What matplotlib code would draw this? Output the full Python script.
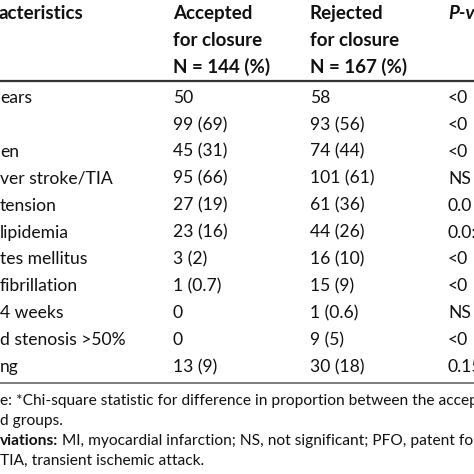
import matplotlib.pyplot as plt

# Colonnes visibles (image recadrée)
headers = [["acteristics", "", ""],
           ["Accepted", "for closure", "N = 144 (%)"],
           ["Rejected", "for closure", "N = 167 (%)"],
           ["P-v", "", ""]]
labels = ["ears", "", "en", "ver stroke/TIA", "tension", "lipidemia",
          "tes mellitus", "fibrillation", "4 weeks", "d stenosis >50%", "ng"]
accepted = ["50", "99 (69)", "45 (31)", "95 (66)", "27 (19)", "23 (16)",
            "3 (2)", "1 (0.7)", "0", "0", "13 (9)"]
rejected = ["58", "93 (56)", "74 (44)", "101 (61)", "61 (36)", "44 (26)",
            "16 (10)", "15 (9)", "1 (0.6)", "9 (5)", "30 (18)"]
pvals = ["<0", "<0", "<0", "NS", "0.0", "0.0:", "<0", "<0", "NS", "<0", "0.15"]
notes = ["e: *Chi-square statistic for difference in proportion between the accep",
         "d groups.",
         "viations: MI, myocardial infarction; NS, not significant; PFO, patent fo",
         "TIA, transient ischemic attack."]

W = H = 474
fig = plt.figure(figsize=(4.74, 4.74), dpi=100)
fig.patch.set_facecolor("white")
ax = fig.add_axes([0, 0, 1, 1])
ax.set_xlim(0, W)
ax.set_ylim(H, 0)
ax.axis("off")

font = "Lato"
col_x = [-2, 173, 310, 448]
fs_h = 13.5
fs = 12.6
fs_n = 11.2
col = "#111111"

# En-têtes
for j, h in enumerate(headers):
    for i, t in enumerate(h):
        if not t:
            continue
        style = "italic" if (j == 3 and i == 0) else "normal"
        ax.text(col_x[j], 13 + 27 * i, t, fontsize=fs_h, fontweight="bold",
                family=font, style=style, va="center", color=col)

ax.axhline(81, color="#333333", lw=1.6)

# Lignes du tableau
for r in range(len(labels)):
    y = 98 + 26.9 * r
    for j, vals in enumerate([labels, accepted, rejected, pvals]):
        ax.text(col_x[j] + (2 if j == 0 else 0), y, vals[r], fontsize=fs,
                family=font, va="center", color=col)

ax.axhline(383, color="#666666", lw=1.2)

# Notes
fig.canvas.draw()
renderer = fig.canvas.get_renderer()
for k, n in enumerate(notes):
    y = 401 + 20 * k
    if n.startswith("viations:"):
        t = ax.text(0, y, "viations:", fontsize=fs_n, family=font,
                    fontweight="bold", va="center", color=col)
        w = t.get_window_extent(renderer).width
        ax.text(w, y, n[len("viations:"):], fontsize=fs_n, family=font,
                va="center", color=col)
    else:
        ax.text(0, y, n, fontsize=fs_n, family=font, va="center", color=col)

fig.savefig("out.png", dpi=100)
